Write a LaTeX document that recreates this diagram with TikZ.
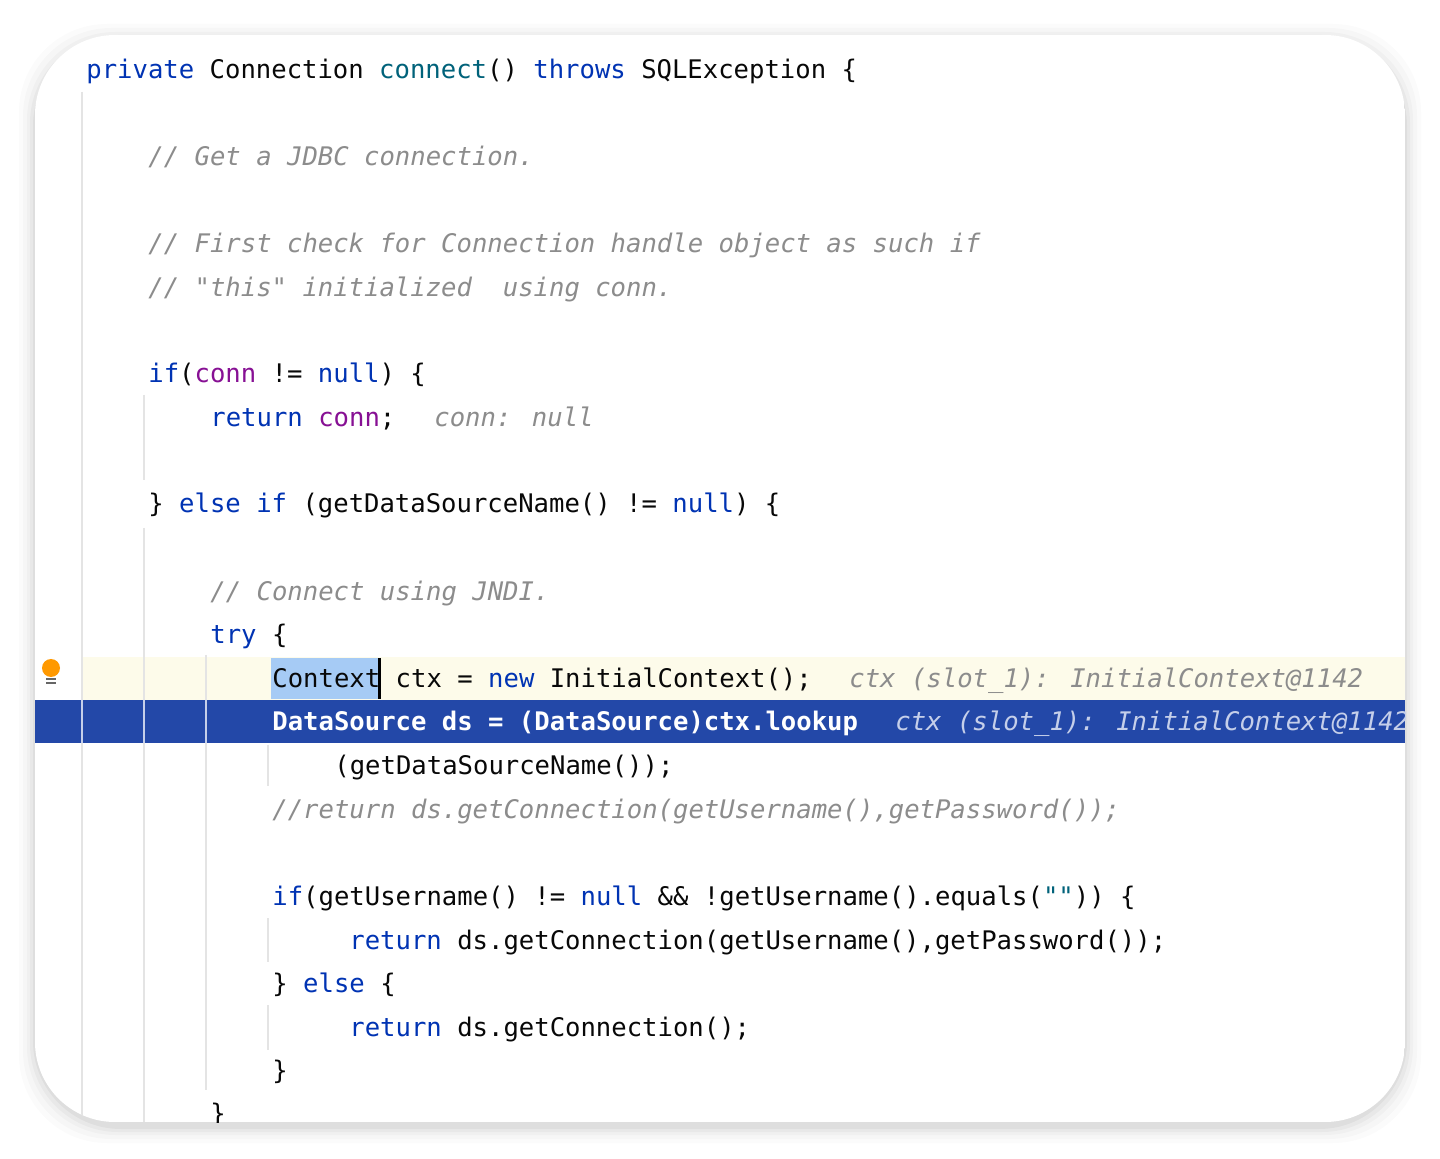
\documentclass[tikz,border=0pt]{standalone}
\usepackage{fontspec}
\newfontfamily\code{DejaVu Sans Mono}
\definecolor{kw}{HTML}{0033B3}
\definecolor{pv}{HTML}{871094}
\definecolor{fn}{HTML}{00627A}
\definecolor{cm}{HTML}{8C8C8C}
\definecolor{tx}{HTML}{080808}
\definecolor{hl}{HTML}{2348A8}
\definecolor{cur}{HTML}{FDFBEA}
\definecolor{sel}{HTML}{A6CBF5}
\definecolor{guide}{HTML}{E4E4E4}
\definecolor{hint}{HTML}{C5CFEA}
\newcommand{\K}[1]{\textcolor{kw}{#1}}
\newcommand{\V}[1]{\textcolor{pv}{#1}}
\newcommand{\C}[1]{\textcolor{cm}{\itshape #1}}
\begin{document}
\begin{tikzpicture}[x=0.5pt,y=-0.5pt,
  cl/.style={anchor=base west,inner sep=0pt,font=\code\fontsize{12.8pt}{14pt}\selectfont,text=tx},
  gd/.style={guide,line width=1pt}]
\useasboundingbox (0,0) rectangle (1440,1159);
\fill[white] (0,0) rectangle (1440,1159);
% shadow
\foreach \i/\o in {16/0.015,12/0.02,8/0.025,5/0.03,2/0.04}{
  \fill[black,opacity=\o,rounded corners=44] (35-\i,35-\i+5) rectangle (1405+\i,1122+\i+5);}
\begin{scope}
\clip[rounded corners=40] (35,35) rectangle (1405,1122);
\fill[white] (35,35) rectangle (1405,1122);
\fill[cur] (82,657) rectangle (1405,700);
\fill[hl] (35,700) rectangle (1405,743);
% guides
\draw[gd] (82,92) -- (82,700); \draw[gd] (82,743) -- (82,1122);
\draw[gd] (144,395) -- (144,480);
\draw[gd] (144,528) -- (144,700); \draw[gd] (144,743) -- (144,1122);
\draw[gd] (206,655) -- (206,700); \draw[gd] (206,743) -- (206,1090);
\draw[gd] (268,745) -- (268,786);
\draw[gd] (268,918) -- (268,962);
\draw[gd] (268,1005) -- (268,1050);
\draw[hint,line width=1pt] (82,700) -- (82,743) (144,700) -- (144,743) (206,700) -- (206,743);
% selection
\fill[sel] (271,658) rectangle (378,699);
\draw[black,line width=1.5pt] (379,658) -- (379,699);
% code
\node[cl] (l1) at (86,79) {\K{private} Connection \textcolor{fn}{connect}() \K{throws} SQLException \{};
\node[cl] (l2) at (148,166) {\C{// Get a JDBC connection.}};
\node[cl] (l3) at (148,253) {\C{// First check for Connection handle object as such if}};
\node[cl] (l4) at (148,297) {\C{// "this" initialized\ \ using conn.}};
\node[cl] (l5) at (148,383) {\K{if}(\V{conn} != \K{null}) \{};
\node[cl] (l6) at (210,427) {\K{return} \V{conn};};
\node[cl] (h1) at (434,427) {\C{conn: null}};
\node[cl] (l7) at (148,513) {\} \K{else} \K{if} (getDataSourceName() != \K{null}) \{};
\node[cl] (l8) at (210,601) {\C{// Connect using JNDI.}};
\node[cl] (l9) at (210,644) {\K{try} \{};
\node[cl] (l10) at (272,688) {Context ctx = \K{new} InitialContext();};
\node[cl] (h2) at (849,688) {\C{ctx (slot\_1): InitialContext@1142}};
\node[cl,text=white] (l11) at (272,731) {\bfseries DataSource ds = (DataSource)ctx.lookup};
\node[cl,text=hint] (h3) at (895,731) {\itshape ctx (slot\_1): InitialContext@1142};
\node[cl] (l12) at (334,775) {(getDataSourceName());};
\node[cl] (l13) at (272,818) {\C{//return ds.getConnection(getUsername(),getPassword());}};
\node[cl] (l14) at (272,905) {\K{if}(getUsername() != \K{null} \&\& !getUsername().equals(\textcolor{fn}{""})) \{};
\node[cl] (l15) at (349,949) {\K{return} ds.getConnection(getUsername(),getPassword());};
\node[cl] (l16) at (272,992) {\} \K{else} \{};
\node[cl] (l17) at (349,1036) {\K{return} ds.getConnection();};
\node[cl] (l18) at (272,1079) {\}};
\node[cl] (l19) at (210,1122) {\}};
\end{scope}
% bulb
\fill[orange!80!yellow] (51,668) circle (9);
\draw[black!60,line width=1pt] (46,679) -- (56,679) (46,683) -- (56,683);
\end{tikzpicture}
\end{document}
